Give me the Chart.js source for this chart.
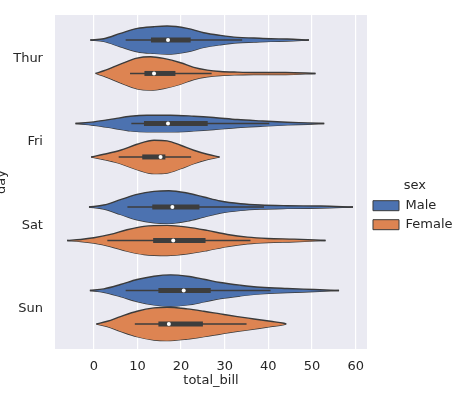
<!DOCTYPE html>
<html>
<head>
<meta charset="utf-8">
<script src="https://cdn.jsdelivr.net/npm/chart.js@4.4.1/dist/chart.umd.min.js"></script>
<style>
  html, body { margin: 0; padding: 0; background: #fff; }
  #wrap { width: 474px; height: 396px; }
</style>
</head>
<body>
<div id="wrap"><canvas id="violinChart"></canvas></div>
<script>
// categories
const days = ['Thur', 'Fri', 'Sat', 'Sun'];
const sexes = ['Male', 'Female'];
const xTicks = [0, 10, 20, 30, 40, 50, 60];

// violin outlines: [total_bill, half width in category units]
const thurMale = [[-0.8, 0], [2.3, 0.016], [6.1, 0.08], [10, 0.14], [13.8, 0.16], [16.8, 0.168], [21.4, 0.14], [25.2, 0.088], [29, 0.056], [32.9, 0.032], [36.7, 0.024], [40.5, 0.016], [44.3, 0.012], [49.3, 0]];
const thurFemale = [[0.4, 0], [2.3, 0.032], [6.1, 0.112], [9.9, 0.184], [13, 0.2], [16, 0.18], [19.9, 0.128], [22.9, 0.072], [26, 0.04], [29, 0.024], [32.9, 0.016], [36.7, 0.012], [44, 0.012], [50.8, 0]];
const friMale = [[-4.2, 0], [0, 0.02], [4.6, 0.056], [8.4, 0.088], [12.2, 0.1], [17.6, 0.1], [22.9, 0.088], [27.5, 0.072], [32.9, 0.048], [38.2, 0.032], [44.3, 0.016], [49, 0.008], [52.8, 0]];
const friFemale = [[-0.6, 0], [2.3, 0.032], [6.1, 0.08], [9.9, 0.152], [13.8, 0.2], [16.8, 0.192], [19.9, 0.14], [22.9, 0.08], [26, 0.032], [28.8, 0]];
const satMale = [[-1.1, 0], [2.3, 0.024], [6.1, 0.088], [9.9, 0.152], [13.8, 0.188], [17.2, 0.196], [21.4, 0.168], [25.2, 0.12], [29, 0.072], [33.6, 0.04], [38.2, 0.024], [44.3, 0.016], [52, 0.012], [59.4, 0]];
const satFemale = [[-6.1, 0], [-3, 0.012], [0, 0.032], [3.8, 0.072], [7.6, 0.128], [11.5, 0.168], [16.8, 0.18], [21.4, 0.16], [26, 0.12], [30.6, 0.072], [35.2, 0.04], [39.8, 0.024], [45.9, 0.016], [53.1, 0]];
const sunMale = [[-0.9, 0], [2.3, 0.02], [6.1, 0.072], [9.9, 0.132], [13.8, 0.172], [17.6, 0.188], [21.4, 0.172], [25.2, 0.136], [29, 0.096], [33.6, 0.064], [38.2, 0.04], [44.3, 0.024], [50.5, 0.012], [56.2, 0]];
const sunFemale = [[0.6, 0], [3.1, 0.032], [6.1, 0.088], [9.9, 0.152], [13.8, 0.192], [16.8, 0.2], [21.4, 0.18], [25.2, 0.152], [29, 0.12], [32.9, 0.088], [36.7, 0.06], [40.5, 0.032], [43.6, 0.008], [44.1, 0]];

// inner box per day, [Male, Female]
const whiskerLow = [[7.3, 8.3], [8.6, 5.7], [7.7, 3.1], [7.3, 9.4]];
const q1 = [[13.1, 11.6], [11.5, 11.1], [13.4, 13.6], [14.8, 14.8]];
const medians = [[17.0, 13.8], [17.0, 15.3], [18.0, 18.2], [20.6, 17.2]];
const q3 = [[22.2, 18.7], [26.1, 16.4], [24.2, 25.6], [26.8, 25.0]];
const whiskerHigh = [[34.0, 27.0], [40.2, 22.3], [39.0, 35.9], [40.5, 35.0]];

const shapes = [[thurMale, thurFemale], [friMale, friFemale], [satMale, satFemale], [sunMale, sunFemale]];
const hueColors = ['#4c72b0', '#dd8452'];
const hueOffset = [-0.2, 0.2];
const edge = '#3b3b3b';
const textColor = '#262626';
const font = { family: 'DejaVu Sans', size: 13 };

const datasets = [];
days.forEach((day, d) => {
    sexes.forEach((sex, s) => {
        const c = d + hueOffset[s];
        const shape = shapes[d][s];
        // upper edge, filled down to the lower edge
        datasets.push({
            data: shape.map(p => ({ x: p[0], y: c - p[1] })),
            fill: '+1', backgroundColor: hueColors[s],
            borderColor: edge, borderWidth: 1.4, pointRadius: 0,
            cubicInterpolationMode: 'monotone', order: 3
        });
        datasets.push({
            data: shape.map(p => ({ x: p[0], y: c + p[1] })),
            fill: false, borderColor: edge, borderWidth: 1.4, pointRadius: 0,
            cubicInterpolationMode: 'monotone', order: 3
        });
        // whiskers
        datasets.push({
            data: [{ x: whiskerLow[d][s], y: c }, { x: whiskerHigh[d][s], y: c }],
            fill: false, borderColor: '#3d3d3d', borderWidth: 1.5, pointRadius: 0, order: 2
        });
        // interquartile bar
        datasets.push({
            data: [{ x: q1[d][s], y: c }, { x: q3[d][s], y: c }],
            fill: false, borderColor: '#3d3d3d', borderWidth: 5, borderCapStyle: 'butt', pointRadius: 0, order: 1
        });
        // median dot
        datasets.push({
            data: [{ x: medians[d][s], y: c }],
            showLine: false, pointRadius: 2, pointBorderWidth: 0,
            pointBackgroundColor: '#ffffff', order: 0
        });
    });
});

const plotBackground = {
    id: 'plotBackground',
    beforeDraw(chart) {
        const { ctx, chartArea: a } = chart;
        ctx.save();
        ctx.fillStyle = '#eaeaf2';
        ctx.fillRect(a.left, a.top, a.width, a.height);
        ctx.restore();
    }
};

const ctx = document.getElementById('violinChart').getContext('2d');
new Chart(ctx, {
    type: 'line',
    data: { datasets },
    plugins: [plotBackground],
    options: {
        responsive: true,
        maintainAspectRatio: false,
        animation: false,
        layout: { padding: { left: -6, right: 11.5, top: 15, bottom: 4.2 } },
        plugins: {
            tooltip: { enabled: false },
            legend: {
                position: 'right',
                title: { display: true, text: 'sex', color: textColor, font, padding: { top: 10, bottom: -2 } },
                labels: {
                    color: textColor, font, boxWidth: 26, boxHeight: 10, padding: 6,
                    generateLabels: () => sexes.map((s, i) => ({
                        text: s, fillStyle: hueColors[i], strokeStyle: edge, lineWidth: 1, hidden: false
                    }))
                }
            }
        },
        scales: {
            x: {
                type: 'linear', min: -8.9, max: 62.6,
                afterBuildTicks: axis => { axis.ticks = xTicks.map(v => ({ value: v })); },
                ticks: { color: textColor, font, padding: 9.5 },
                grid: { color: '#ffffff', lineWidth: 1.2, drawTicks: false },
                border: { display: false },
                title: { display: true, text: 'total_bill', color: textColor, font, padding: { top: -10.4, bottom: 3 } }
            },
            y: {
                type: 'linear', min: -0.5, max: 3.5, reverse: true,
                afterBuildTicks: axis => { axis.ticks = days.map((d, i) => ({ value: i })); },
                ticks: { color: textColor, font: { ...font, lineHeight: 0.4 }, padding: 12, labelOffset: 1.5, callback: v => days[v] },
                grid: { display: false, drawTicks: false },
                border: { display: false },
                title: { display: true, text: 'day', color: textColor, font, padding: { top: 0, bottom: -8.4 } }
            }
        }
    }
});
</script>
</body>
</html>
